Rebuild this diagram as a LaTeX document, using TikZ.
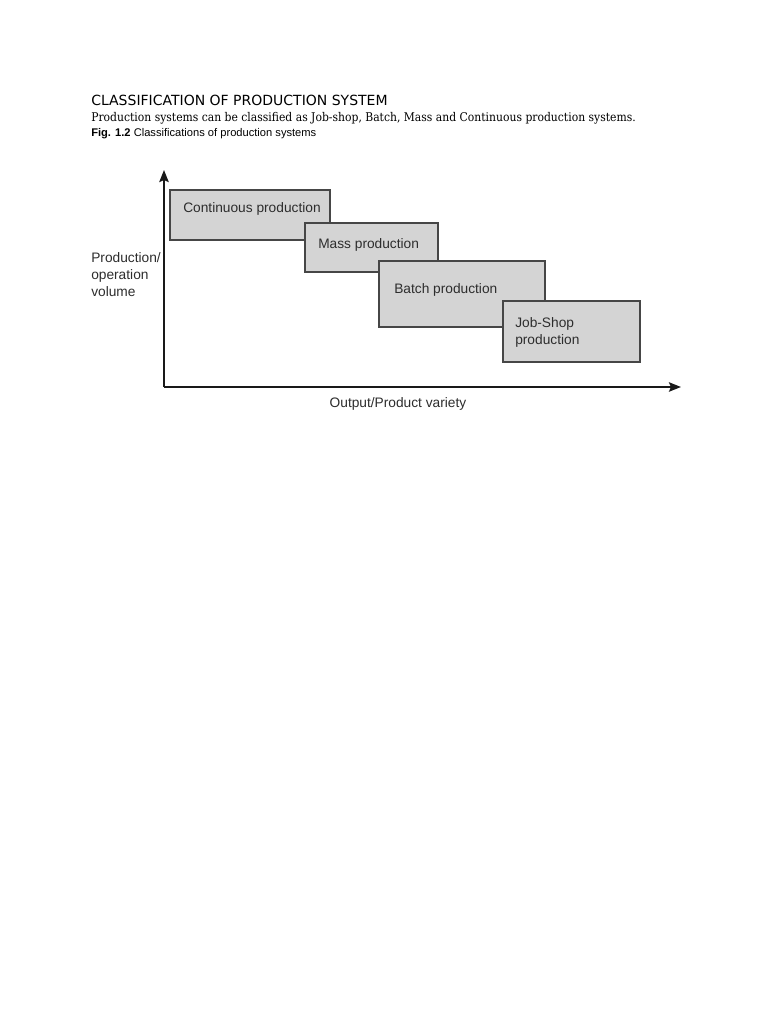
\documentclass[tikz,border=0pt]{standalone}
\usepackage{fontspec}
\setmainfont{Liberation Sans}
\newfontfamily\headfont{DejaVu Sans}
\newfontfamily\bodyfont{DejaVu Serif Condensed}
\usetikzlibrary{arrows.meta}
\definecolor{boxfill}{RGB}{212,212,212}
\definecolor{boxline}{RGB}{70,70,70}
\definecolor{labtext}{RGB}{45,45,45}
\definecolor{axisline}{RGB}{25,25,25}
\begin{document}
\begin{tikzpicture}[x=0.75pt,y=-0.75pt,
  prodbox/.style={draw=boxline,fill=boxfill,line width=1.1pt,inner sep=0pt},
  boxlabel/.style={anchor=west,inner sep=0pt,text=labtext,font=\fontsize{10.3}{12.8}\selectfont,align=left},
  axislabel/.style={inner sep=0pt,text=labtext,font=\fontsize{10.3}{12.8}\selectfont,align=left},
  axisarrow/.style={draw=axisline,line width=1.6pt,-{Stealth[length=9pt,width=7pt,inset=1.5pt]}}]
\useasboundingbox[fill=white] (0,0) rectangle (768,1024);
% header texts
\node[anchor=west,inner sep=0pt] (title) at (91,100) {\headfont\fontsize{10.5}{12}\selectfont CLASSIFICATION OF PRODUCTION SYSTEM};
\node[anchor=west,inner sep=0pt] (intro) at (91,118) {\bodyfont\fontsize{9}{11}\selectfont Production systems can be classified as Job-shop, Batch, Mass and Continuous production systems.};
\node[anchor=west,inner sep=0pt] (caption) at (91,134) {\fontsize{8.35}{9.5}\selectfont\textbf{Fig. 1.2} Classifications of production systems};
% boxes
\node[prodbox,minimum width=120pt,minimum height=37.5pt] (cont) at (250,215) {};
\node[prodbox,minimum width=99.75pt,minimum height=36.75pt] (mass) at (371.5,247.5) {};
\node[prodbox,minimum width=124.5pt,minimum height=49.5pt] (batch) at (462,294) {};
\node[prodbox,minimum width=102.75pt,minimum height=45.75pt] (job) at (571.5,331.5) {};
\node[boxlabel] (contl) at (183,209) {Continuous production};
\node[boxlabel] (massl) at (318,245) {Mass production};
\node[boxlabel] (batchl) at (394,290) {Batch production};
\node[boxlabel] (jobl) at (515,332) {Job-Shop\\production};
% axes
\coordinate (origin) at (164,387);
\coordinate (ytip) at (164,170);
\coordinate (xtip) at (681,387);
\draw[axisarrow] (origin) -- (ytip);
\draw[axisarrow] (origin) -- (xtip);
\node[axislabel,anchor=west] (ylab) at (91,275) {Production/\\operation\\volume};
\node[axislabel] (xlab) at (398,404) {Output/Product variety};
\end{tikzpicture}
\end{document}
